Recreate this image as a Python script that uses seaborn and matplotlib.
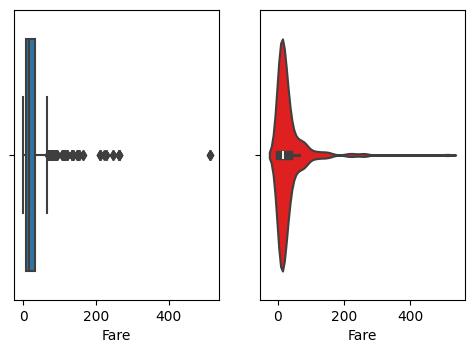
import numpy as np
import pandas as pd
import matplotlib
matplotlib.use("Agg")
import matplotlib.pyplot as plt
import seaborn as sns

# Fare values (Titanic passengers) and how many passengers paid each
fare_values = [0, 5, 6.7, 7.05, 7.2, 7.25, 7.55, 7.7, 7.75, 7.8, 7.85, 7.9, 7.925,
               8.05, 8.4, 8.66, 9.3, 9.5, 9.83, 10.3, 10.5, 11.3, 12.4, 13, 13.7,
               14.45, 15.2, 15.6, 16.1, 17.5, 18.5, 19.5, 20.4, 21, 22.3, 23.2, 24.1,
               25.6, 26, 26.3, 26.55, 27.8, 29, 30.3, 31, 31.3, 33, 34.6, 35.5, 37,
               39.5, 41.6, 46.9, 49.8, 52, 53, 55.5, 56.5, 57.5, 60.5, 62.5, 65,
               66.6, 69.3, 69.55, 71, 71.28, 73.5, 75.25, 76.29, 76.73, 77.29, 77.96,
               78.27, 78.85, 79.2, 79.65, 80, 81.86, 82.17, 83.16, 83.48, 86.5, 89.1,
               90, 91.08, 93.5, 106.43, 108.9, 110.88, 113.28, 120, 133.65, 134.5,
               135.63, 146.52, 151.55, 153.46, 164.87, 211.34, 211.5, 221.78, 227.53,
               247.52, 262.38, 263, 512.33]
fare_counts = [15, 1, 10, 7, 31, 14, 9, 11, 36, 27, 15, 38, 18,
               49, 7, 15, 9, 11, 5, 3, 27, 9, 14, 44, 10,
               19, 8, 16, 12, 3, 8, 8, 9, 12, 5, 8, 12,
               8, 33, 12, 15, 19, 12, 12, 3, 11, 7, 9, 4, 4,
               12, 4, 7, 5, 10, 8, 5, 9, 4, 3, 2, 2,
               2, 2, 7, 2, 1, 5, 1, 1, 3, 2, 3,
               2, 2, 4, 3, 2, 1, 2, 3, 2, 3, 2,
               4, 2, 2, 2, 2, 4, 3, 4, 2, 3,
               3, 2, 4, 3, 2, 3, 1, 1, 4,
               2, 2, 4, 3]

df = pd.DataFrame({"Fare": np.repeat(fare_values, fare_counts)})

fig, axes = plt.subplots(1, 2, figsize=(4.74, 3.53), dpi=100)
fig.subplots_adjust(left=0.0295, right=0.981, bottom=0.15, top=0.972, wspace=0.2)

gray = "#3f3f3f"
sns.boxplot(data=df, x="Fare", ax=axes[0], linecolor=gray, linewidth=1.5,
            fliersize=5,
            flierprops=dict(marker="d", markerfacecolor=gray, markeredgecolor=gray))
sns.violinplot(data=df, x="Fare", ax=axes[1], color="red", linecolor=gray, linewidth=1.5)

for ax in axes:
    ax.set_yticks([0])
    ax.set_yticklabels([""])
    ax.set_ylim(0.5, -0.5)

fig.savefig("out.png", dpi=100)
